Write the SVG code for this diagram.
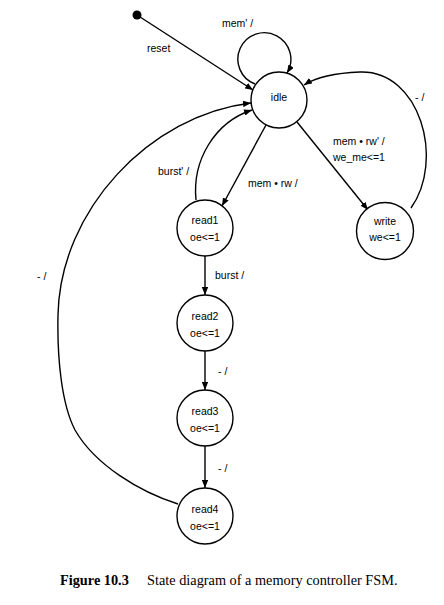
<svg xmlns="http://www.w3.org/2000/svg" width="444" height="605" viewBox="0 0 444 605">
<defs>
<marker id="arr" viewBox="0 0 10 8" refX="10" refY="4" markerWidth="8" markerHeight="6.4" markerUnits="userSpaceOnUse" orient="auto">
<path d="M0,0 L10,4 L0,8 Z" fill="#000"/>
</marker>
</defs>
<style>
.st{fill:#fff;stroke:#000;stroke-width:1.4}
.t{font-family:"Liberation Sans",Arial,sans-serif;font-size:10.5px;fill:#000}
.c{text-anchor:middle}
.e{fill:none;stroke:#000;stroke-width:1.4;marker-end:url(#arr)}
.cap{font-family:"Liberation Serif","Times New Roman",serif;font-size:14.3px;fill:#000}
</style>
<rect width="444" height="605" fill="#fff"/>
<g id="connectors">
<circle cx="137" cy="15" r="4.5" fill="#000"/>
<path class="e" d="M137,15 L253,90"/>
<path class="e" d="M255,84 A26.5,26.5 0 1 1 287,73"/>
<path class="e" d="M266,125 L222,206"/>
<path class="e" d="M297,122 L368,210"/>
<path class="e" d="M411,208 C445,160 420,70 360,72 C335,73 315,78 304,85"/>
<path class="e" d="M196,200 C192,160 215,122 252,110"/>
<path class="e" d="M178,504 C140,492 95,465 75,430 C62,405 57,360 58,315 C60,210 150,115 251,103"/>
<path class="e" d="M205,256 L205,295"/>
<path class="e" d="M205,351 L205,390"/>
<path class="e" d="M205,446 L205,488"/>
</g>
<g id="labels">
<text class="t" x="222" y="27">mem' /</text>
<text class="t" x="147" y="52">reset</text>
<text class="t" x="415" y="101">- /</text>
<text class="t" x="333" y="145">mem • rw' /</text>
<text class="t" x="333" y="161">we_me&lt;=1</text>
<text class="t" x="248" y="187">mem • rw /</text>
<text class="t" x="158" y="175">burst' /</text>
<text class="t" x="37" y="280">- /</text>
<text class="t" x="215" y="279">burst /</text>
<text class="t" x="218" y="375">- /</text>
<text class="t" x="218" y="472">- /</text>
</g>
<g id="idle">
<circle class="st" cx="279" cy="100" r="28"/>
<text class="t c" x="279" y="101">idle</text>
</g>
<g id="write">
<circle class="st" cx="385" cy="231" r="28.5"/>
<text class="t c" x="385" y="225">write</text>
<text class="t c" x="385" y="241">we&lt;=1</text>
</g>
<g id="read1">
<circle class="st" cx="205" cy="228" r="28"/>
<text class="t c" x="205" y="224">read1</text>
<text class="t c" x="205" y="241">oe&lt;=1</text>
</g>
<g id="read2">
<circle class="st" cx="205" cy="323" r="28"/>
<text class="t c" x="205" y="320">read2</text>
<text class="t c" x="205" y="337">oe&lt;=1</text>
</g>
<g id="read3">
<circle class="st" cx="205" cy="418" r="28"/>
<text class="t c" x="205" y="415">read3</text>
<text class="t c" x="205" y="432">oe&lt;=1</text>
</g>
<g id="read4">
<circle class="st" cx="205" cy="516" r="28"/>
<text class="t c" x="205" y="513">read4</text>
<text class="t c" x="205" y="530">oe&lt;=1</text>
</g>
<g id="caption">
<text class="cap" x="60" y="585"><tspan font-weight="bold">Figure 10.3</tspan><tspan x="147">State diagram of a memory controller FSM.</tspan></text>
</g>
</svg>
